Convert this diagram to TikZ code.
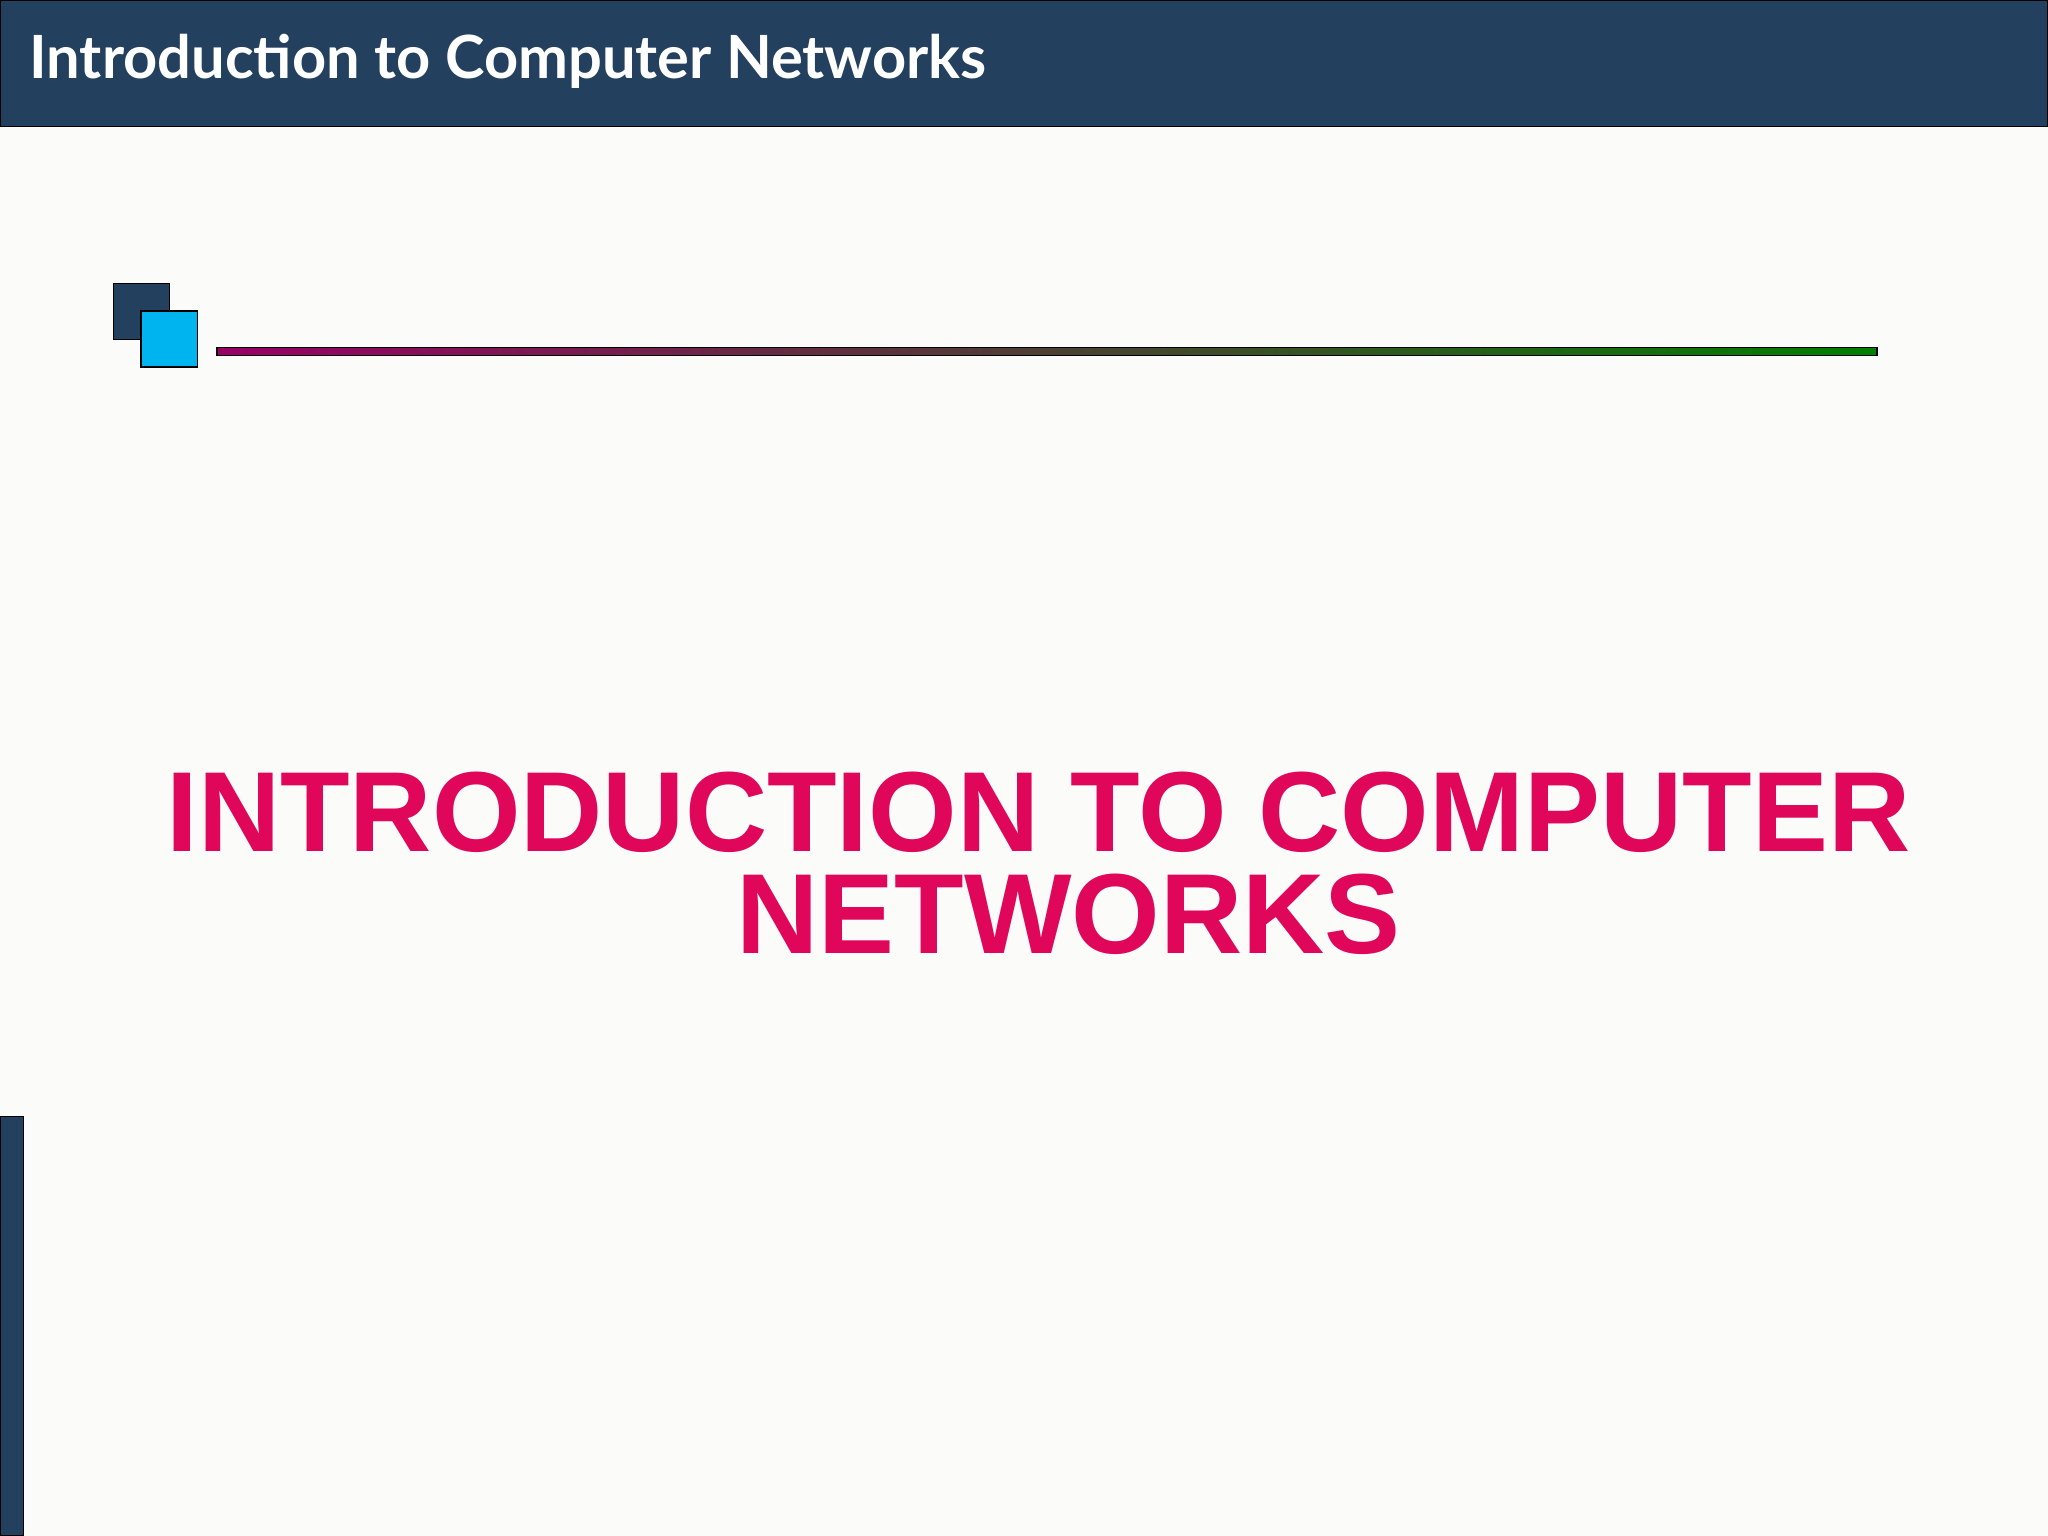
\documentclass[tikz,border=0pt]{standalone}
\usepackage{fontspec}
\setmainfont{Liberation Sans}
\newfontfamily\titlefont{Lato}
\definecolor{hdr}{HTML}{23405F}
\definecolor{cyanbox}{HTML}{00B4F0}
\definecolor{mag}{HTML}{E0065A}
\definecolor{bg}{HTML}{FBFCF9}
\begin{document}
\begin{tikzpicture}[x=0.01306cm,y=-0.01306cm,
  bigtxt/.style={text=mag,font=\bfseries\fontsize{32.4}{36}\selectfont,inner sep=0,anchor=base}]
\fill[bg] (0,0) rectangle (1568,1176);
\useasboundingbox (0,0) rectangle (1568,1176);
\fill[hdr,draw=black] (0,0) rectangle (1568,97);
\node[anchor=base west,text=white,inner sep=0] (title) at (22,60) {\resizebox{9.57cm}{!}{\titlefont\bfseries\fontsize{19}{21}\selectfont Introduction to Computer Networks}};
\draw[fill=hdr,draw=black] (87,217) rectangle (130,260);
\draw[fill=cyanbox,draw=black] (108,238) rectangle (151,281);
\shade[left color=purple!80!blue,right color=green!50!black,draw=black] (166,266) rectangle (1437,272);
\fill[hdr,draw=black] (0,855) rectangle (18,1176);
\node[bigtxt] (l1) at (795,652) {INTRODUCTION TO COMPUTER};
\node[bigtxt] (l2) at (818,730) {NETWORKS};
\end{tikzpicture}
\end{document}
